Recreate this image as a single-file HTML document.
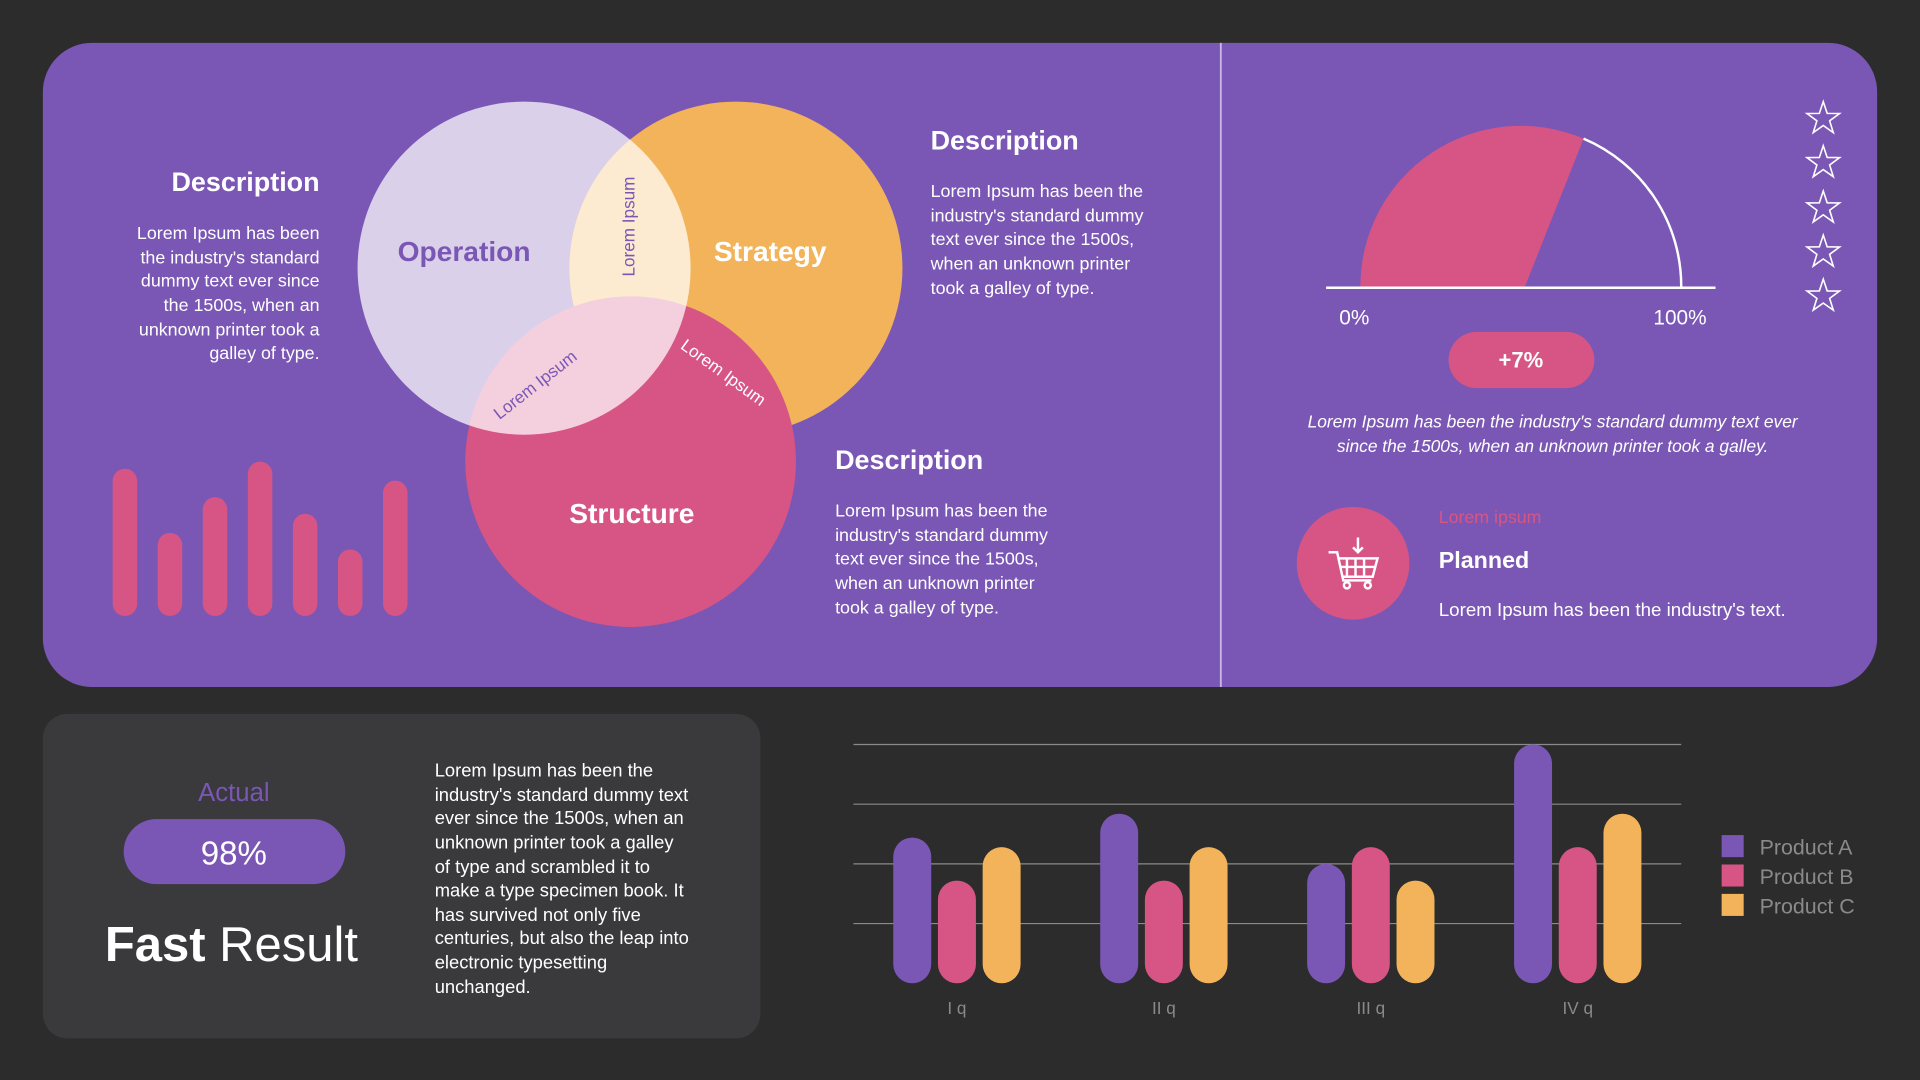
<!DOCTYPE html>
<html><head><meta charset="utf-8"><title>Infographic</title>
<style>
html,body{margin:0;padding:0;background:#2c2c2c;width:1920px;height:1080px;overflow:hidden}
svg{display:block;font-family:"Liberation Sans",sans-serif}
</style></head>
<body>
<svg id="root" width="1920" height="1080" viewBox="0 0 1568 882" xmlns="http://www.w3.org/2000/svg">
<rect x="0" y="0" width="1568" height="882" fill="#2c2c2c"/>
<rect x="35" y="35" width="1498" height="526" rx="40" fill="#7b57b5"/>
<line x1="997" y1="35" x2="997" y2="561" stroke="#c9b6e6" stroke-width="1.5"/>

<g>
<circle cx="601" cy="219" r="136" fill="#f2b35a"/>
<circle cx="515" cy="377" r="135" fill="#d75585"/>
<circle cx="428" cy="219" r="136" fill="#ffffff" fill-opacity="0.72"/>
<text x="379" y="213" font-size="23" font-weight="bold" fill="#7b57b5" text-anchor="middle">Operation</text>
<text x="629" y="213" font-size="23" font-weight="bold" fill="#ffffff" text-anchor="middle">Strategy</text>
<text x="516" y="427" font-size="23" font-weight="bold" fill="#ffffff" text-anchor="middle">Structure</text>
<text transform="translate(518,185) rotate(-90)" font-size="14" fill="#7b57b5" text-anchor="middle">Lorem Ipsum</text>
<text transform="translate(440,318) rotate(-38)" font-size="14" fill="#7b57b5" text-anchor="middle">Lorem Ipsum</text>
<text transform="translate(588,308) rotate(36)" font-size="14" fill="#ffffff" text-anchor="middle">Lorem Ipsum</text>
</g>

<g fill="#ffffff">
<text x="261" y="156" font-size="22" font-weight="bold" text-anchor="end">Description</text>
<g font-size="14.6" text-anchor="end">
<text x="261" y="195">Lorem Ipsum has been</text>
<text x="261" y="215">the industry's standard</text>
<text x="261" y="234">dummy text ever since</text>
<text x="261" y="254">the 1500s, when an</text>
<text x="261" y="274">unknown printer took a</text>
<text x="261" y="293">galley of type.</text>
</g></g>
<g fill="#ffffff">
<text x="760" y="122" font-size="22" font-weight="bold">Description</text>
<g font-size="14.6">
<text x="760" y="161">Lorem Ipsum has been the</text>
<text x="760" y="181">industry's standard dummy</text>
<text x="760" y="200">text ever since the 1500s,</text>
<text x="760" y="220">when an unknown printer</text>
<text x="760" y="240">took a galley of type.</text>
</g></g>
<g fill="#ffffff">
<text x="682" y="383" font-size="22" font-weight="bold">Description</text>
<g font-size="14.6">
<text x="682" y="422">Lorem Ipsum has been the</text>
<text x="682" y="442">industry's standard dummy</text>
<text x="682" y="461">text ever since the 1500s,</text>
<text x="682" y="481">when an unknown printer</text>
<text x="682" y="501">took a galley of type.</text>
</g></g>

<g id="deco"></g>

<g>
<path id="gaugeFill" fill="#d75585"/>
<path id="gaugeArc" fill="none" stroke="#ffffff" stroke-width="2"/>
<line x1="1083" y1="235" x2="1401" y2="235" stroke="#ffffff" stroke-width="2"/>
<text x="1106" y="265" font-size="17" fill="#ffffff" text-anchor="middle">0%</text>
<text x="1372" y="265" font-size="17" fill="#ffffff" text-anchor="middle">100%</text>
</g>
<rect x="1183" y="271" width="119" height="46" rx="23" fill="#d75585"/>
<text x="1242" y="300" font-size="18" font-weight="bold" fill="#ffffff" text-anchor="middle">+7%</text>
<g font-size="14.2" font-style="italic" fill="#ffffff" text-anchor="middle">
<text x="1268" y="349">Lorem Ipsum has been the industry's standard dummy text ever</text>
<text x="1268" y="369">since the 1500s, when an unknown printer took a galley.</text>
</g>
<g id="stars"></g>

<circle cx="1105" cy="460" r="46" fill="#d75585"/>
<g stroke="#ffffff" stroke-width="2" fill="none">
<path d="M1085 451 H1092 L1097 474 H1120"/>
<path d="M1093 456 H1125 L1121 471 H1096"/>
<path d="M1100 456 V471 M1107 456 V471 M1114 456 V471 M1094 463 H1123"/>
<circle cx="1100" cy="478" r="2.5"/><circle cx="1117" cy="478" r="2.5"/>
<path d="M1109 439 V451 M1105 447 L1109 451 L1113 447"/>
</g>
<text x="1175" y="427" font-size="14.5" fill="#d75585">Lorem ipsum</text>
<text x="1175" y="464" font-size="19" font-weight="bold" fill="#ffffff">Planned</text>
<text x="1175" y="503" font-size="15.3" fill="#ffffff">Lorem Ipsum has been the industry's text.</text>

<rect x="35" y="583" width="586" height="265" rx="20" fill="#3a393b"/>
<text x="191" y="654" font-size="21" fill="#7b57b5" text-anchor="middle">Actual</text>
<rect x="101" y="669" width="181" height="53" rx="26.5" fill="#7b57b5"/>
<text x="191" y="706" font-size="27" fill="#ffffff" text-anchor="middle">98%</text>
<text x="189" y="785" font-size="40" fill="#ffffff" text-anchor="middle"><tspan font-weight="bold">Fast</tspan> Result</text>
<g font-size="15" fill="#ffffff">
<text x="355" y="634">Lorem Ipsum has been the</text>
<text x="355" y="654">industry's standard dummy text</text>
<text x="355" y="673">ever since the 1500s, when an</text>
<text x="355" y="693">unknown printer took a galley</text>
<text x="355" y="713">of type and scrambled it to</text>
<text x="355" y="732">make a type specimen book. It</text>
<text x="355" y="752">has survived not only five</text>
<text x="355" y="771">centuries, but also the leap into</text>
<text x="355" y="791">electronic typesetting</text>
<text x="355" y="811">unchanged.</text>
</g>

<g id="chart"></g>
<g id="legend"></g>
</svg>
<script>
const categories = ["I q","II q","III q","IV q"];
const productA = [61, 71, 50, 100];
const productB = [43, 43, 57, 57];
const productC = [57, 57, 43, 71];
const seriesNames = ["Product A","Product B","Product C"];
const gridTicks = [25, 50, 75, 100];
const decoValues = [62, 35, 50, 65, 43, 28, 57];
const gaugeValue = 62;

const NS = "http://www.w3.org/2000/svg";
function mk(tag, attrs, parent){const e=document.createElementNS(NS,tag);for(const k in attrs)e.setAttribute(k,attrs[k]);parent.appendChild(e);return e;}

const chart = document.getElementById('chart');
const X0=697, X1=1373, YB=803, YT=608, VMAX=100;
const y = v => YB - (v / VMAX) * (YB - YT);
const groupW = (X1 - X0) / categories.length;
const xc = i => X0 + groupW * (i + 0.5);
const colors = ["#7b57b5","#d75585","#f2b35a"];
const series = [productA, productB, productC];
gridTicks.forEach(t => {
  const l = mk('line',{x1:X0,x2:X1,y1:y(t),y2:y(t),stroke:'#8a8a8a','stroke-width':1},chart);
  
  
});
const bw = 31, gap = 36.5;
categories.forEach((c, i) => {
  series.forEach((s, j) => {
    const cx = xc(i) + (j - 1) * gap;
    const top = y(s[i]);
    const r = mk('rect',{x:cx-bw/2,y:top,width:bw,height:YB-top,rx:bw/2,fill:colors[j]},chart);
    
    
  });
  const t = mk('text',{x:xc(i),y:828,'font-size':14,fill:'#8a8a8a','text-anchor':'middle'},chart);
  t.textContent = c;
  
  
});
const legend = document.getElementById('legend');
seriesNames.forEach((n, j) => {
  const r = mk('rect',{x:1406,y:682+j*24,width:18,height:18,fill:colors[j]},legend);
  
  
  const t = mk('text',{x:1437,y:698+j*24,'font-size':17.5,fill:'#8a8a8a'},legend);
  t.textContent = n;
  
  
});

const deco = document.getElementById('deco');
decoValues.forEach((v, i) => {
  const cx = 102 + i * 36.8, h = v / 65 * 126;
  const r = mk('rect',{x:cx-10,y:503-h,width:20,height:h,rx:10,fill:'#d75585'},deco);
  
  
});

const gcx=1242, gcy=235, gr=131;
const ang = Math.PI * (1 - gaugeValue/100);
const ex = gcx + gr*Math.cos(ang), ey = gcy - gr*Math.sin(ang);
document.getElementById('gaugeFill').setAttribute('d',`M${gcx+3} ${gcy} L${gcx-gr} ${gcy} A${gr} ${gr} 0 0 1 ${ex+3} ${ey} Z`);
document.getElementById('gaugeArc').setAttribute('d',`M${ex+3} ${ey} A${gr} ${gr} 0 0 1 ${gcx+gr} ${gcy}`);

const stars = document.getElementById('stars');
[96,132,169,205,241].forEach(cy => {
  let pts=[];
  for(let k=0;k<10;k++){const a=-Math.PI/2+k*Math.PI/5;const rr=k%2?5.5:14;pts.push((1489+rr*Math.cos(a)).toFixed(1)+','+(cy+1+rr*Math.sin(a)).toFixed(1));}
  const p = mk('polygon',{points:pts.join(' '),fill:'none',stroke:'#ffffff','stroke-width':1.3},stars);
  
  
});
</script>
</body></html>
